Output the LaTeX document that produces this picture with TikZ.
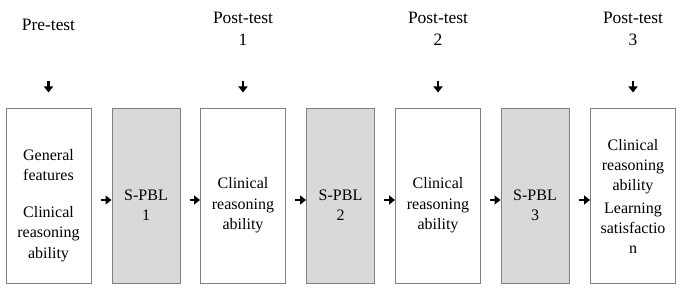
\documentclass[tikz,border=0pt]{standalone}
\usepackage{fontspec}
\setmainfont{Liberation Serif}
\usetikzlibrary{arrows.meta}
\definecolor{boxline}{HTML}{808080}
\definecolor{boxfill}{HTML}{D9D9D9}
\newcommand{\padtop}{\mbox{}\\[9pt]}
\tikzset{
  stage/.style={draw=boxline, line width=1pt, align=center, minimum width=85pt,
    minimum height=174pt, inner sep=0pt, font=\fontsize{16}{20.5}\selectfont},
  pbl/.style={stage, fill=boxfill, minimum width=68pt},
  test/.style={align=center, font=\fontsize{17.4}{22}\selectfont},
  flow/.style={line width=2.6pt, -{Triangle[width=9pt,length=6pt]}}
}
\begin{document}
\begin{tikzpicture}[x=1pt, y=-1pt]
  \useasboundingbox (0,0) rectangle (685,291);
  \node[stage] (S1) at (48.5,196) {\padtop General\\features\\[16pt]Clinical\\reasoning\\ability};
  \node[pbl]   (P1) at (146,196)  {\padtop S-PBL\\1};
  \node[stage] (S2) at (243,196)  {\padtop Clinical\\reasoning\\ability};
  \node[pbl]   (P2) at (340.5,196) {\padtop S-PBL\\2};
  \node[stage] (S3) at (438,196)  {\padtop Clinical\\reasoning\\ability};
  \node[pbl]   (P3) at (535,196)  {\padtop S-PBL\\3};
  \node[stage, font=\fontsize{16}{20}\selectfont] (S4) at (633,196)
    {Clinical\\reasoning\\ability\\[3pt]Learning\\satisfactio\\n};
  \node[test] (T0) at (48.5,25)  {Pre-test};
  \node[test] (T1) at (243,28.5) {Post-test\\1};
  \node[test] (T2) at (438,28.5) {Post-test\\2};
  \node[test] (T3) at (633,28.5) {Post-test\\3};
  \draw[flow] ([xshift=9pt,yshift=-4pt]S1.east) -- ([yshift=-4pt]P1.west);
  \draw[flow] ([xshift=9pt,yshift=-4pt]P1.east) -- ([yshift=-4pt]S2.west);
  \draw[flow] ([xshift=9pt,yshift=-4pt]S2.east) -- ([yshift=-4pt]P2.west);
  \draw[flow] ([xshift=9pt,yshift=-4pt]P2.east) -- ([yshift=-4pt]S3.west);
  \draw[flow] ([xshift=9pt,yshift=-4pt]S3.east) -- ([yshift=-4pt]P3.west);
  \draw[flow] ([xshift=9pt,yshift=-4pt]P3.east) -- ([yshift=-4pt]S4.west);
  \foreach \s in {S1,S2,S3,S4}
    \draw[flow] ([yshift=27pt]\s.north) -- ([yshift=16pt]\s.north);
\end{tikzpicture}
\end{document}
